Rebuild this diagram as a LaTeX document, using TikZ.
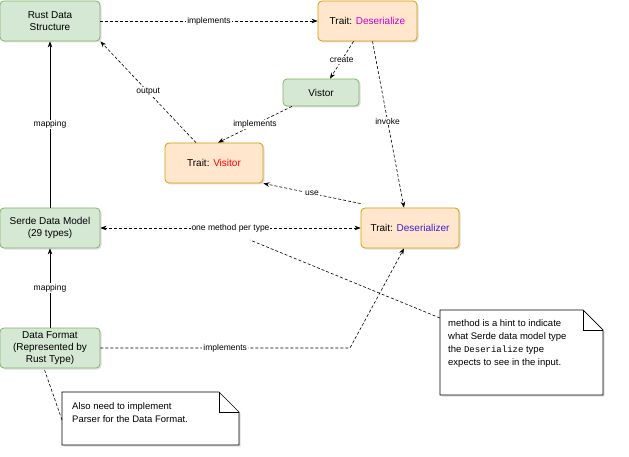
\documentclass[tikz,border=0pt]{standalone}
\usepackage{fontspec}
\setmainfont{Liberation Sans}
\newfontfamily\monof{Liberation Mono}
\usetikzlibrary{arrows.meta,shadows}
\definecolor{gfill}{HTML}{D5E8D4}\definecolor{gline}{HTML}{82B366}
\definecolor{ofill}{HTML}{FFE6CC}\definecolor{oline}{HTML}{D79B00}
\definecolor{pinkc}{HTML}{CC00CC}\definecolor{bluec}{HTML}{3A1FD0}
\begin{document}
\begin{tikzpicture}[x=1pt,y=-1pt,font=\fontsize{10}{12}\selectfont,
 box/.style={rounded corners=4pt,line width=0.8pt,minimum height=40pt,align=center,inner sep=1pt,drop shadow={opacity=0.25,shadow xshift=1.5pt,shadow yshift=-1.5pt}},
 gbox/.style={box,fill=gfill,draw=gline},
 obox/.style={box,fill=ofill,draw=oline},
 darr/.style={densely dashed,line width=0.6pt,-{Stealth[length=6pt]}},
 lab/.style={fill=white,inner sep=1pt,font=\fontsize{8.5}{10}\selectfont},
 note/.style={draw,line width=0.7pt,fill=white,drop shadow={opacity=0.25,shadow xshift=1.5pt,shadow yshift=-1.5pt}}]
\useasboundingbox (0,0) rectangle (629,457);
\node[gbox,minimum width=100pt] (rds) at (50,21) {Rust Data\\Structure};
\node[obox,minimum width=99pt] (des) at (367.5,21) {Trait: \textcolor{pinkc}{Deserialize}};
\node[gbox,minimum width=76pt,minimum height=27pt] (vis) at (321,92.5) {Vistor};
\node[obox,minimum width=98pt] (visitor) at (214,163) {Trait: \textcolor{red}{Visitor}};
\node[obox,minimum width=98pt] (dzr) at (410,228) {Trait: \textcolor{bluec}{Deserializer}};
\node[gbox,minimum width=100pt] (sdm) at (50,228) {Serde Data Model\\(29 types)};
\node[gbox,minimum width=100pt] (df) at (50,348) {Data Format\\(Represented by\\Rust Type)};
\draw[darr] (rds.east) -- node[lab]{implements} (des.west);
\draw[darr] ([xshift=-14pt]des.south) -- node[lab]{create} ([xshift=9pt]vis.north);
\draw[darr] ([xshift=5pt]des.south) -- node[lab,pos=0.48]{invoke} ([xshift=-6pt]dzr.north);
\draw[darr] ([xshift=-29pt]vis.south) -- node[lab]{implements} ([xshift=4pt]visitor.north);
\draw[darr] ([xshift=-18pt]visitor.north) -- node[lab]{output} (rds.south east);
\draw[darr] ([yshift=4pt]dzr.north west) -- node[lab]{use} (visitor.south east);
\draw[densely dashed,line width=0.6pt,{Stealth[length=6pt]}-{Stealth[length=6pt]}] (sdm.east) -- node[lab]{one method per type} (dzr.west);
\draw[line width=0.6pt,-{Stealth[length=6pt]}] (sdm.north) -- node[lab]{mapping} (rds.south);
\draw[line width=0.6pt,-{Stealth[length=6pt]}] (df.north) -- node[lab]{mapping} (sdm.south);
\coordinate (bend) at (350,348);
\draw[darr] (df.east) -- node[lab]{implements} (bend) -- ([xshift=-6pt]dzr.south);
% notes
\draw[note] (440,310) -- (583,310) -- (603,330) -- (603,395) -- (440,395) -- cycle;
\draw[line width=0.7pt] (583,310) -- (583,330) -- (603,330);
\node[anchor=north west,align=left,inner sep=0pt,font=\fontsize{9.5}{13}\selectfont] (n1) at (448,319) {method is a hint to indicate\\what Serde data model type\\the {\monof\fontsize{9}{13}\selectfont Deserialize} type\\expects to see in the input.};
\coordinate (n1a) at (440,318);
\coordinate (n1b) at (250,240);
\draw[densely dashed,line width=0.6pt] (n1a) -- (n1b);
\draw[note] (62,392) -- (219,392) -- (239,412) -- (239,445) -- (62,445) -- cycle;
\draw[line width=0.7pt] (219,392) -- (219,412) -- (239,412);
\node[anchor=north west,align=left,inner sep=0pt,font=\fontsize{9.5}{13}\selectfont] (n2) at (72,402) {Also need to implement\\Parser for the Data Format.};
\coordinate (n2a) at (62,420);
\draw[densely dashed,line width=0.6pt] (n2a) -- ([xshift=-6pt]df.south);
\end{tikzpicture}
\end{document}
